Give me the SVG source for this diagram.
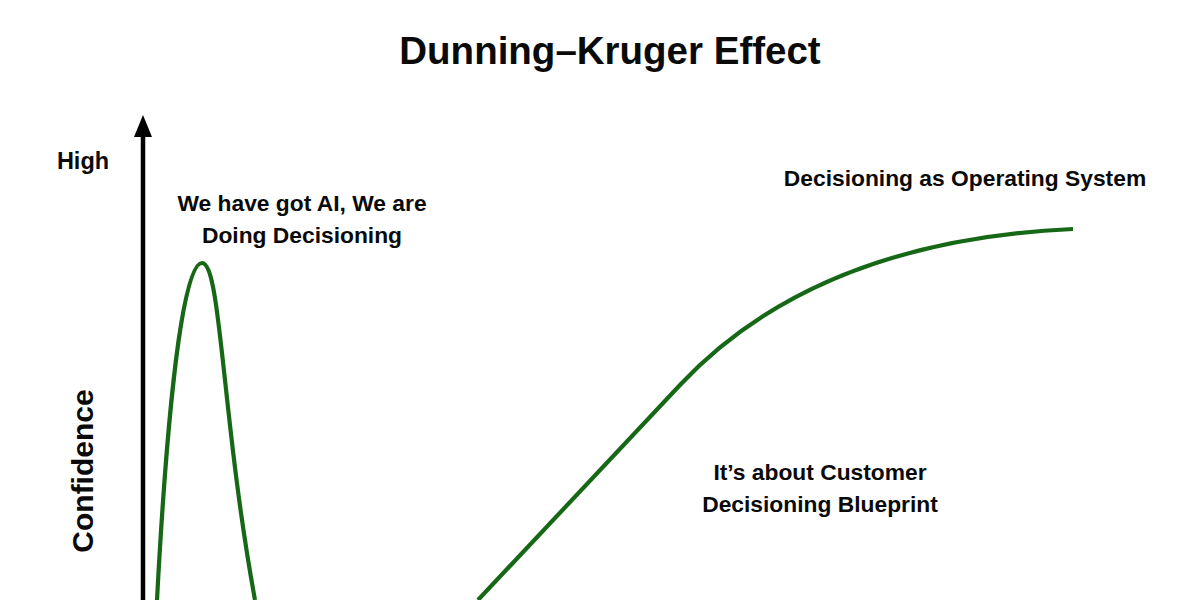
<svg xmlns="http://www.w3.org/2000/svg" width="1200" height="600" viewBox="0 0 1200 600">
<style>
text{font-family:"Liberation Sans",Arial,sans-serif;font-weight:bold;fill:#0a0a0a}
.lbl{font-size:22.8px}
.curve{fill:none;stroke:#166816;stroke-width:4.2;stroke-linecap:butt;stroke-linejoin:round}
</style>
<rect width="1200" height="600" fill="#ffffff"/>
<g id="title"><text x="610" y="64" font-size="38.5" text-anchor="middle">Dunning–Kruger Effect</text></g>
<g id="axis">
<line x1="143" y1="600" x2="143" y2="134" stroke="#000" stroke-width="4.5"/>
<polygon points="143,115 134,137 152,137" fill="#000"/>
<text x="83" y="169" font-size="23.5" text-anchor="middle">High</text>
<text x="93" y="471" font-size="30" text-anchor="middle" transform="rotate(-90 93 471)">Confidence</text>
</g>
<g id="connectors">
<path class="curve" d="M157,600 C165,450 180,263 202,263 C221,263 222,420 255,600"/>
<path class="curve" d="M478,600 L680,385 C780,278.6 920,236 1073,229"/>
</g>
<g id="peak-label"><text class="lbl" text-anchor="middle"><tspan x="302" y="211">We have got AI, We are</tspan><tspan x="302" y="243">Doing Decisioning</tspan></text></g>
<g id="plateau-label"><text class="lbl" x="965" y="186" text-anchor="middle">Decisioning as Operating System</text></g>
<g id="slope-label"><text class="lbl" text-anchor="middle"><tspan x="820" y="480">It’s about Customer</tspan><tspan x="820" y="512">Decisioning Blueprint</tspan></text></g>
</svg>
